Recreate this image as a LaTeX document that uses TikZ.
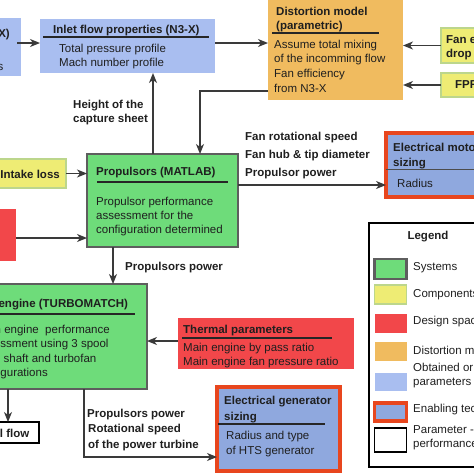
\documentclass[tikz,border=0pt]{standalone}
\usepackage{fontspec}
\setmainfont{Liberation Sans}
\usepackage{xcolor}
\usepackage{tikz}
\usetikzlibrary{arrows.meta,calc}

\definecolor{sysgreen}{HTML}{6EDC7A}
\definecolor{sysedge}{HTML}{5E5E5E}
\definecolor{cmpyellow}{HTML}{EEEC74}
\definecolor{cmpedge}{HTML}{BCD68C}
\definecolor{dsnred}{HTML}{F2474A}
\definecolor{dstorange}{HTML}{F0BB5F}
\definecolor{objblue}{HTML}{A9BEF0}
\definecolor{enbblue}{HTML}{8FA8DE}
\definecolor{enbedge}{HTML}{E8461E}
\definecolor{linegray}{HTML}{3A3A3A}

\begin{document}
\begin{tikzpicture}[x=1pt, y=-1pt, >={Stealth[length=10pt,width=8pt,inset=3pt]},
  font=\fontsize{11.5}{14.5}\selectfont,
  blk/.style={anchor=north west, inner sep=0pt, outer sep=0pt},
  sysbox/.style={blk, fill=sysgreen, draw=sysedge, line width=2.6pt},
  cmpbox/.style={blk, fill=cmpyellow, draw=cmpedge, line width=1.2pt},
  dsnbox/.style={blk, fill=dsnred},
  dstbox/.style={blk, fill=dstorange},
  objbox/.style={blk, fill=objblue},
  enbbox/.style={blk, fill=enbblue, draw=enbedge, line width=3.5pt},
  parbox/.style={blk, fill=white, draw=black, line width=1.3pt},
  txt/.style={anchor=north west, inner sep=0pt, align=left, text=black!88},
  ttl/.style={txt, font=\fontsize{11.5}{14.5}\selectfont\bfseries},
  rule/.style={draw=black!85, line width=1.4pt},
  arr/.style={->, draw=linegray, line width=1.3pt}]
\path[use as bounding box, clip] (0,0) rectangle (474,474);

\node[objbox, minimum width=81pt, minimum height=58pt] (objL) at (-60,18) {};
\node[ttl, anchor=north east] at (10,28.5) {Geometry (N3-X)};
\node[txt, anchor=north east] at (3.5,62) {Inlet dimensions};

\node[objbox, minimum width=175pt, minimum height=54pt] (inlet) at (40,19) {};
\node[ttl] at (53,24.5) {Inlet flow properties (N3-X)};
\draw[rule] (43,37) -- (209,37);
\node[txt, font=\fontsize{11.5}{14}\selectfont] at (59,43.5) {Total pressure profile\\Mach number profile};

\node[dstbox, minimum width=135pt, minimum height=105pt] (dist) at (268,-5) {};
\node[ttl, font=\fontsize{11.5}{14}\selectfont\bfseries] at (276,6.5) {Distortion model\\(parametric)};
\draw[rule] (272,33) -- (379,33);
\node[txt, font=\fontsize{11.5}{14.7}\selectfont] at (274,39.5) {Assume total mixing\\of the incomming flow\\Fan efficiency\\from N3-X};

\node[cmpbox, minimum width=79pt, minimum height=35pt] (fanEff) at (441,28) {};
\node[ttl, font=\fontsize{11.5}{14}\selectfont\bfseries] at (446,34.5) {Fan efficiency\\drop};
\node[cmpbox, minimum width=79pt, minimum height=24pt] (fpr) at (441,73) {};
\node[ttl] at (455,80.5) {FPR};

\node[sysbox, minimum width=151pt, minimum height=93pt] (prop) at (87,154) {};
\node[ttl] at (96,166.5) {Propulsors (MATLAB)};
\draw[rule] (97,182) -- (228,182);
\node[txt, font=\fontsize{11.5}{14}\selectfont] at (96,196.5) {Propulsor performance\\assessment for the\\configuration determined};

\node[cmpbox, minimum width=106pt, minimum height=29pt] (intake) at (-40,159) {};
\node[ttl, anchor=north east] at (60,169.5) {Intake loss};

\node[dsnbox, minimum width=56pt, minimum height=52pt] (dsnL) at (-40,209) {};

\node[enbbox, minimum width=134pt, minimum height=64pt] (motor) at (386,133) {};
\node[ttl, font=\fontsize{11.5}{15}\selectfont\bfseries] at (393,142.5) {Electrical motor\\sizing};
\draw[draw=black!70, line width=1pt] (386,169) -- (520,169);
\node[txt] at (397,178.5) {Radius};

\node[ttl, font=\fontsize{11.5}{18}\selectfont\bfseries] (motorlbl) at (245,131.5) {Fan rotational speed\\Fan hub \& tip diameter\\Propulsor power};
\node[ttl, font=\fontsize{11.5}{14}\selectfont\bfseries] (heightlbl) at (73,99.5) {Height of the\\capture sheet};
\node[ttl] (powlbl) at (125,261.5) {Propulsors power};

\node[sysbox, minimum width=207pt, minimum height=105pt] (engine) at (-60,284) {};
\node[ttl] at (-31,298.5) {Main engine (TURBOMATCH)};
\draw[rule] (-60,314) -- (135,314);
\node[txt] at (-24,324.5) {Main engine\ \ performance\\assessment using 3 spool\\multi shaft and turbofan\\configurations};

\node[parbox, minimum width=79pt, minimum height=21pt] (fuel) at (-40,422) {};
\node[ttl, anchor=north east] at (29.5,428.5) {Fuel flow};

\node[dsnbox, minimum width=176pt, minimum height=51pt] (thermal) at (178,318) {};
\node[ttl] at (183,324.5) {Thermal parameters};
\draw[rule] (182,338) -- (332,338);
\node[txt] at (183,342.5) {Main engine by pass ratio\\Main engine fan pressure ratio};

\node[enbbox, minimum width=123pt, minimum height=84pt] (gen) at (217,387) {};
\node[ttl, font=\fontsize{11.5}{16}\selectfont\bfseries] at (224,395.5) {Electrical generator\\sizing};
\draw[rule] (218,424) -- (325,424);
\node[txt, font=\fontsize{11.5}{15}\selectfont] at (226,430.5) {Radius and type\\of HTS generator};

\node[ttl] (genlbl) at (87,408.5) {Propulsors power};
\node[ttl, font=\fontsize{11.5}{15.5}\selectfont\bfseries] (turblbl) at (88,424) {Rotational speed\\of the power turbine};

\node[blk, draw=black, line width=2.2pt, minimum width=151pt, minimum height=244pt] (legend) at (369,223) {};
\node[ttl, anchor=center] at (428,237) {Legend};
\foreach \sy/\ty/\sty/\sh/\lbl in {269/268/sysbox/20/Systems, 294.5/295/cmpbox/19/Components,
    323/322/dsnbox/19/Design space, 351/350/dstbox/19/Distortion model,
    382/376/objbox/18/{Obtained or estimated\\parameters}, 412/410/enbbox/18/Enabling technologies,
    440/438/parbox/24/{Parameter - output\\performance}}{
  \node[\sty, anchor=center, minimum width=32pt, minimum height=\sh pt] (sw\sy) at (390.5,\sy) {};
  \node[txt, anchor=west, font=\fontsize{11.5}{14}\selectfont] at (413,\ty) {\lbl};
}

\draw[arr] ($(objL.north east)+(-4,25)$) -- ($(inlet.north west)+(0,24)$);
\draw[arr] ($(inlet.north east)+(0,24)$) -- ($(dist.north west)+(0,48)$);
\draw[arr] (fanEff.west) -- (fanEff.west -| dist.east);
\draw[arr] (fpr.west) -- (fpr.west -| dist.east);
\draw[arr] ($(dist.north west)+(0,96)$) -| ($(prop.north west)+(113,0)$);
\draw[arr] ($(prop.north west)+(66,0)$) -- ($(inlet.south west)+(113,0)$);
\draw[arr] (intake.east) -- (intake.east -| prop.west);
\draw[arr] ($(dsnL.east)+(0,3)$) -- ($(prop.west |- dsnL.east)+(0,3)$);
\draw[arr] ($(prop.north east)+(0,31)$) -- ($(motor.north west)+(0,52)$);
\draw[arr] ($(prop.south west)+(26,0)$) -- ($(engine.north west)+(173,0)$);
\draw[arr] ($(thermal.north west)+(0,23)$) -- ($(engine.north east)+(0,57)$);
\draw[arr] ($(engine.south west)+(68,0)$) -- ($(fuel.north west)+(48,0)$);
\draw[arr] ($(engine.south west)+(144,0)$) |- ($(gen.north west)+(0,70)$);
\end{tikzpicture}
\end{document}
